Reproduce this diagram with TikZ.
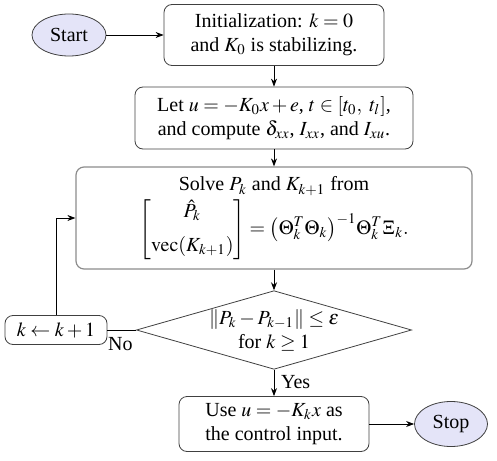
\documentclass[tikz,border=0pt]{standalone}
\usepackage{amsmath}
\usepackage{mathptmx}
\usepackage{fontspec}
\setmainfont{Liberation Serif}
\usepackage{tikz}
\usetikzlibrary{arrows.meta,positioning,shapes.geometric}
\usepackage{xcolor}
\definecolor{termfill}{HTML}{E4E4F8}
\definecolor{boxline}{HTML}{404040}
\definecolor{solveline}{HTML}{8C8C8C}

\begin{document}
\begin{tikzpicture}[x=0.5pt,y=-0.5pt,font=\fontsize{10}{12}\selectfont,
  stepbox/.style={draw=boxline,rounded corners=4pt,align=center,inner sep=2pt},
  termnode/.style={ellipse,draw=boxline,fill=termfill,inner sep=0pt},
  flow/.style={-{Stealth[length=4pt,width=3pt]}}]
  \useasboundingbox (0,0) rectangle (497,460);
  \node[termnode,minimum width=37pt,minimum height=21pt] (start) at (69,35) {Start};
  \node[stepbox,minimum width=110pt,minimum height=30.5pt] (init) at (274,35)
    {Initialization: $k=0$\\ and $K_0$ is stabilizing.};
  \node[stepbox,minimum width=139pt,minimum height=31pt] (let) at (274,118)
    {Let $u=-K_0x+e$, $t\in[t_0,\ t_l]$,\\ and compute $\delta_{xx}$, $I_{xx}$, and $I_{xu}$.};
  \node[stepbox,draw=solveline,line width=0.6pt,minimum width=198pt,minimum height=51pt] (solve) at (274,218)
    {Solve $P_k$ and $K_{k+1}$ from\\[1pt]
     $\displaystyle \begin{bmatrix} \hat{P}_k\\[5pt] \mathrm{vec}(K_{k+1}) \end{bmatrix}
      = \big(\Theta_k^T\Theta_k\big)^{-1}\Theta_k^T\Xi_k.$};
  \node[diamond,aspect=3.5,draw=boxline,align=center,inner sep=0pt,minimum width=136pt,minimum height=38.5pt] (check) at (274,330)
    {$\|P_k-P_{k-1}\|\le\varepsilon$\\ for $k\ge1$};
  \node[stepbox,minimum width=51pt,minimum height=14.5pt] (inc) at (56,330) {$k\leftarrow k+1$};
  \node[stepbox,minimum width=95pt,minimum height=27.5pt] (use) at (274,424)
    {Use $u=-K_kx$ as\\ the control input.};
  \node[termnode,minimum width=36.5pt,minimum height=22.5pt] (stop) at (451,424) {Stop};

  \draw[flow] (start) -- (init);
  \draw[flow] (init) -- (let);
  \draw[flow] (let) -- (solve);
  \draw[flow] (solve) -- (check);
  \draw[flow] (check) -- node[right,pos=0.45] {Yes} (use);
  \draw (check) -- node[below,pos=0.55] {No} (inc);
  \draw[flow] (inc) |- (solve);
  \draw[flow] (use) -- (stop);
\end{tikzpicture}
\end{document}
